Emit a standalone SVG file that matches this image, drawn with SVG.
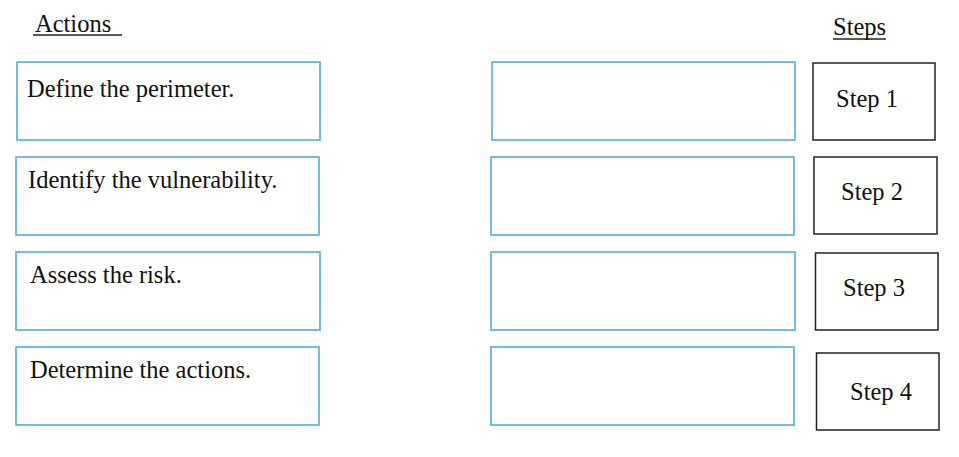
<svg xmlns="http://www.w3.org/2000/svg" width="959" height="457" viewBox="0 0 959 457">
<style>
text{font-family:"Liberation Serif","DejaVu Serif",serif;font-size:24.5px;fill:#111}
.a{fill:#fff;stroke:#4fb0d2;stroke-width:1.6}
.s{fill:#fff;stroke:#222;stroke-width:1.5}
.u{stroke:#222;stroke-width:1.4}
</style>
<rect width="959" height="457" fill="#fff"/>
<g id="header-actions"><text x="35" y="32">Actions</text><line class="u" x1="33" y1="35" x2="122" y2="35"/></g>
<g id="header-steps"><text x="833" y="35">Steps</text><line class="u" x1="833" y1="39" x2="886" y2="39"/></g>
<g id="action1"><rect class="a" x="17" y="62" width="303" height="78"/><text x="27" y="97">Define the perimeter.</text></g>
<g id="action2"><rect class="a" x="16" y="157" width="303" height="78"/><text x="28" y="188">Identify the vulnerability.</text></g>
<g id="action3"><rect class="a" x="16" y="252" width="304" height="78"/><text x="30" y="283">Assess the risk.</text></g>
<g id="action4"><rect class="a" x="16" y="347" width="303" height="78"/><text x="30" y="378">Determine the actions.</text></g>
<g id="slot1"><rect class="a" x="492" y="62" width="303" height="78"/></g>
<g id="slot2"><rect class="a" x="491" y="157" width="303" height="78"/></g>
<g id="slot3"><rect class="a" x="491" y="252" width="304" height="78"/></g>
<g id="slot4"><rect class="a" x="491" y="347" width="303" height="78"/></g>
<g id="step1"><rect class="s" x="813" y="63" width="122" height="77"/><text x="836" y="107">Step 1</text></g>
<g id="step2"><rect class="s" x="814" y="157" width="123" height="77"/><text x="841" y="200">Step 2</text></g>
<g id="step3"><rect class="s" x="815.5" y="253" width="122.5" height="77"/><text x="843" y="296">Step 3</text></g>
<g id="step4"><rect class="s" x="816.5" y="353" width="122.5" height="77"/><text x="850" y="400">Step 4</text></g>
<g id="connectors"/>
</svg>
